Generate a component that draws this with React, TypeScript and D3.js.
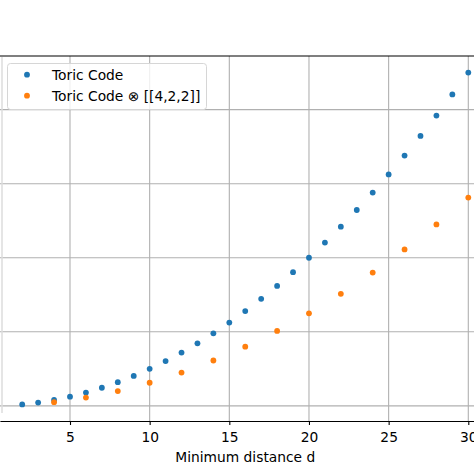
import React, { useEffect, useRef } from 'react';
import * as d3 from 'd3';

// minimum distance d and the qubit counts of each code family
const toricD = [2, 3, 4, 5, 6, 7, 8, 9, 10, 11, 12, 13, 14, 15, 16, 17, 18, 19, 20, 21, 22, 23, 24, 25, 26, 27, 28, 29, 30];
const toricQubits = [8, 18, 32, 50, 72, 98, 128, 162, 200, 242, 288, 338, 392, 450, 512, 578, 648, 722, 800, 882, 968, 1058, 1152, 1250, 1352, 1458, 1568, 1682, 1800];

const concatD = [4, 6, 8, 10, 12, 14, 16, 18, 20, 22, 24, 26, 28, 30];
const concatQubits = [20, 45, 80, 125, 180, 245, 320, 405, 500, 605, 720, 845, 980, 1125];

const xTicks = [5, 10, 15, 20, 25, 30];
const yTicks = [0, 400, 800, 1200, 1600];
const seriesNames = ['Toric Code', 'Toric Code ⊗ [[4,2,2]]'];
const seriesColors = ['#1f77b4', '#ff7f0e'];

const FONT = 'DejaVu Sans, sans-serif';
const FONT_SIZE = '13.8px';

function ScatterPlot() {
    const svgRef = useRef<SVGSVGElement>(null);

    useEffect(() => {
        if (!svgRef.current) return;
        const svg = d3.select(svgRef.current);
        svg.selectAll('*').remove();

        const margin = { top: 56, bottom: 421, left: -0.1, right: 490.6 };

        const x = d3.scaleLinear().domain([0.6, 31.4]).range([margin.left, margin.right]);
        const y = d3.scaleLinear().domain([-81.6, 1889.6]).range([margin.bottom, margin.top]);

        // grid
        const grid = svg.append('g').attr('stroke', '#b0b0b0').attr('stroke-width', 1.1);
        grid.selectAll('line.vx')
            .data(xTicks)
            .join('line')
            .attr('x1', d => x(d)).attr('x2', d => x(d))
            .attr('y1', margin.top).attr('y2', margin.bottom);
        grid.selectAll('line.hy')
            .data(yTicks)
            .join('line')
            .attr('x1', margin.left).attr('x2', margin.right)
            .attr('y1', d => y(d)).attr('y2', d => y(d));

        svg.append('line')
            .attr('x1', 2).attr('x2', 2).attr('y1', 57).attr('y2', 413)
            .attr('stroke', '#dcdcdc').attr('stroke-width', 1.5);

        // spines
        svg.append('line')
            .attr('x1', margin.left).attr('x2', margin.right)
            .attr('y1', margin.top).attr('y2', margin.top)
            .attr('stroke', '#000').attr('stroke-width', 1.1);

        const xAxis = svg.append('g')
            .attr('transform', `translate(0,${margin.bottom})`)
            .call(d3.axisBottom(x).tickValues(xTicks).tickSize(4).tickSizeOuter(0));
        xAxis.select('.domain').attr('stroke', '#000').attr('stroke-width', 1.1);
        xAxis.selectAll('.tick line').attr('stroke', '#000').attr('stroke-width', 1.1);
        xAxis.selectAll('.tick text')
            .attr('y', 20.5).attr('dy', 0)
            .attr('fill', '#000')
            .style('font-family', FONT).style('font-size', FONT_SIZE);

        svg.append('text')
            .attr('x', (margin.left + margin.right) / 2)
            .attr('y', 461.5)
            .attr('text-anchor', 'middle')
            .style('font-family', FONT).style('font-size', FONT_SIZE)
            .text('Minimum distance d');

        // points
        const series = [
            { d: toricD, q: toricQubits },
            { d: concatD, q: concatQubits },
        ];
        series.forEach((s, i) => {
            svg.append('g').selectAll('circle')
                .data(s.d.map((d, j) => [d, s.q[j]]))
                .join('circle')
                .attr('cx', p => x(p[0]))
                .attr('cy', p => y(p[1]))
                .attr('r', 2.9)
                .attr('fill', seriesColors[i]);
        });

        // legend
        const legend = svg.append('g');
        legend.append('rect')
            .attr('x', 7.5).attr('y', 63.5).attr('width', 199).attr('height', 46)
            .attr('rx', 3)
            .attr('fill', 'rgba(255,255,255,0.8)')
            .attr('stroke', '#d6d6d6').attr('stroke-width', 1);
        seriesNames.forEach((name, i) => {
            const cy = 74.7 + i * 21;
            legend.append('circle')
                .attr('cx', 27).attr('cy', cy).attr('r', 2.9)
                .attr('fill', seriesColors[i]);
            legend.append('text')
                .attr('x', 52).attr('y', cy + 4.8)
                .style('font-family', FONT).style('font-size', FONT_SIZE)
                .text(name);
        });
    }, []);

    return <svg ref={svgRef} width={474} height={474} style={{ position: 'absolute', left: 0, top: 0, background: '#fff' }} />;
}

export default function App() {
    return <ScatterPlot />;
}
